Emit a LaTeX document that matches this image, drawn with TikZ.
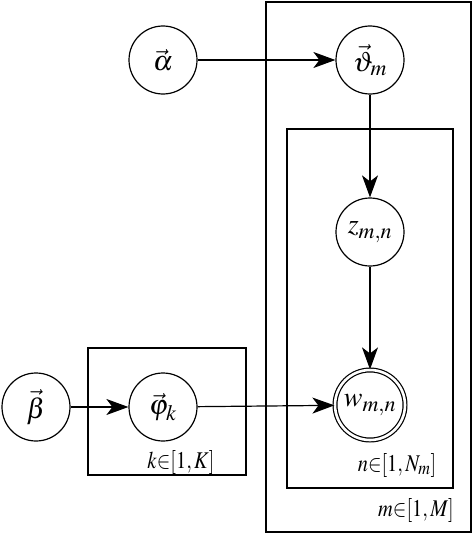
\documentclass[tikz,border=0pt]{standalone}
\usepackage{mathptmx}
\usepackage{graphicx}
\DeclareMathSizes{28}{28}{22}{17}
\DeclareMathSizes{24}{24}{19}{15}
\usetikzlibrary{arrows.meta}
\newcommand{\platelabel}[1]{\scalebox{0.85}[1]{$#1$}}
\begin{document}
\begin{tikzpicture}[x=1pt,y=-1pt,
  var/.style={circle,draw,line width=1.2pt,minimum size=68pt,inner sep=0pt,font=\fontsize{28}{32}\selectfont},
  obs/.style={var,double,double distance=2.6pt,minimum size=70pt},
  plate/.style={draw,line width=1.3pt},
  lbl/.style={font=\fontsize{24}{28}\selectfont,inner sep=0pt},
  edge/.style={line width=1.2pt,-{Stealth[length=22pt,width=16pt,inset=6pt]}}]
\useasboundingbox (0,0) rectangle (474,535);
% plates
\draw[plate] (266,2) rectangle (471,532);
\draw[line width=2.4pt] (266,2) -- (471,2) -- (471,532) -- (266,532);
\draw[plate] (287,129) rectangle (453,488);
\draw[plate] (88,348) rectangle (246,475);
% nodes
\node[var] (alpha) at (163,60) {$\vec{\alpha}$};
\node[var] (theta) at (370,60) {$\vec{\vartheta}_m$};
\node[var] (z) at (370,232) {$z_{m,n}$};
\node[obs] (w) at (370,405) {$w_{m,n}$};
\node[var] (beta) at (36,407) {$\vec{\beta}$};
\node[var] (phi) at (163,407) {$\vec{\varphi}_k$};
% labels
\node[lbl] (lk) at (181,462) {\platelabel{k{\in}[1,K]}};
\node[lbl] (ln) at (397,465) {\platelabel{n{\in}[1,N_m]}};
\node[lbl] (lm) at (416,510) {\platelabel{m{\in}[1,M]}};
% edges
\draw[edge] (alpha) -- (theta);
\draw[edge] (theta) -- (z);
\draw[edge] (z) -- (w);
\draw[edge] (beta) -- (phi);
\draw[edge] (phi) -- (w);
\end{tikzpicture}
\end{document}
